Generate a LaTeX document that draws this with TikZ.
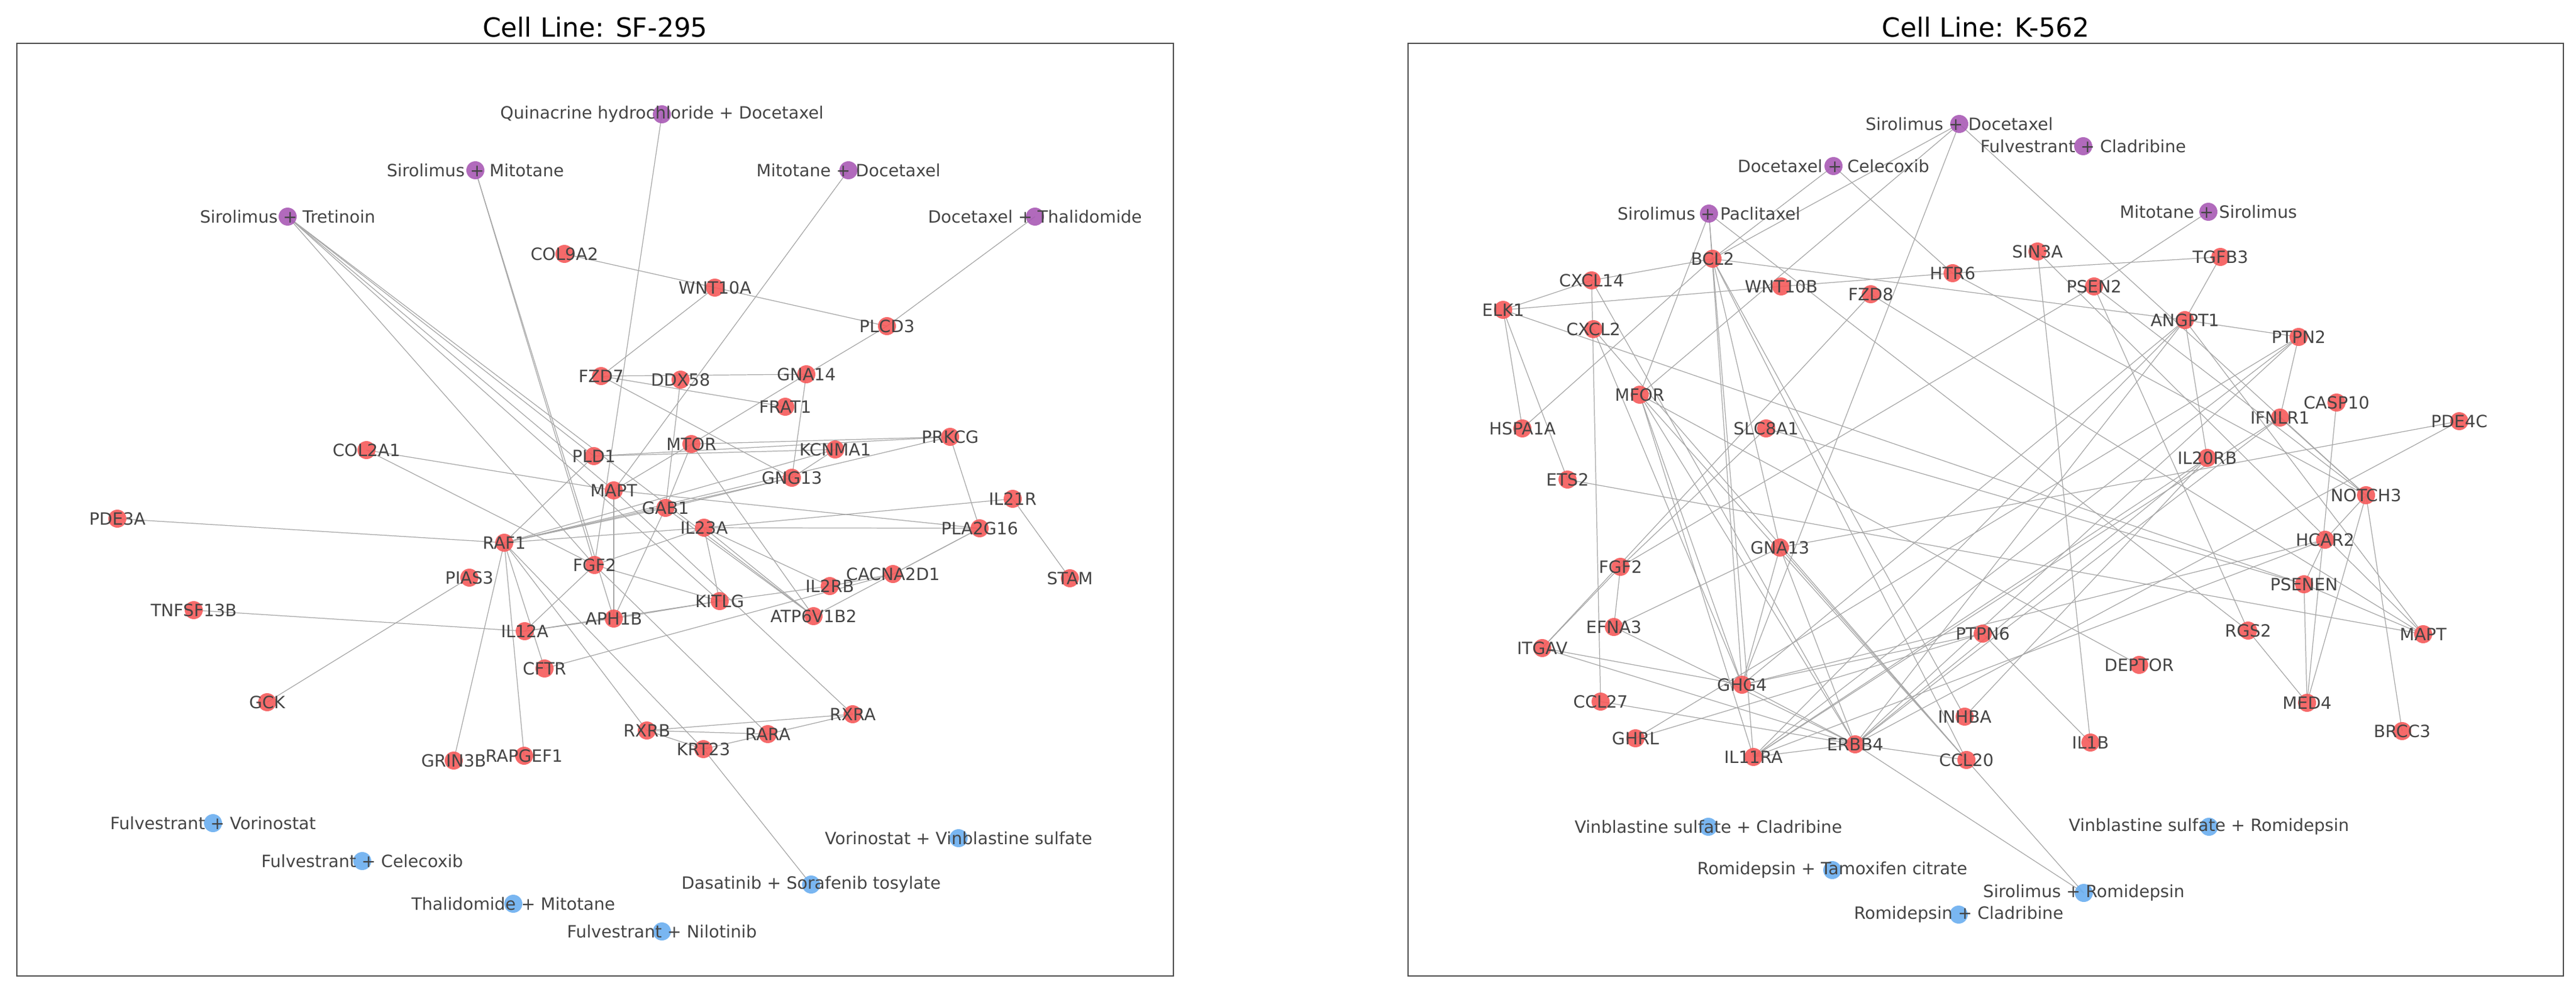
\documentclass[tikz,border=0pt]{standalone}
\usepackage{fontspec}
\setmainfont{DejaVu Sans}
\pgfdeclarelayer{bg}
\pgfsetlayers{bg,main}
\definecolor{gred}{HTML}{F55A5A}
\definecolor{dpur}{HTML}{A85AB5}
\definecolor{dblu}{HTML}{6AAEEF}
\definecolor{txt}{HTML}{444444}
\tikzset{
 gn/.style={circle,inner sep=0pt,minimum size=0.3cm,fill=gred,fill opacity=0.9},
 pn/.style={gn,fill=dpur},
 bn/.style={gn,fill=dblu},
 lbl/.style={text=txt,font=\fontsize{8}{9}\selectfont,inner sep=0pt},
 edge/.style={draw=gray!70,line width=0.35pt},
 frame/.style={draw=black!70,line width=0.5pt},
 ttl/.style={font=\fontsize{12.5}{14}\selectfont,text=black}
}
\newcommand\N[5]{\node[#1] (#2) at (#3/100,-#4/100) {}; \node[lbl] at (#2) {#5};}
\begin{document}
\begin{tikzpicture}
\useasboundingbox (0,0) rectangle (42.81,-16.37);
\draw[frame] (0.28,-0.72) rectangle (19.50,-16.22);
\draw[frame] (23.40,-0.72) rectangle (42.60,-16.22);
\node[ttl] at (9.89,-0.45) {Cell Line: SF-295};
\node[ttl] at (33.0,-0.45) {Cell Line: K-562};
% SF-295
\N{pn}{qd}{1100}{190}{Quinacrine hydrochloride + Docetaxel}
\N{pn}{sm}{790}{283}{Sirolimus + Mitotane}
\N{pn}{md}{1410}{283}{Mitotane + Docetaxel}
\N{pn}{st}{478}{360}{Sirolimus + Tretinoin}
\N{pn}{dt}{1720}{360}{Docetaxel + Thalidomide}
\N{gn}{COLnA}{938}{422}{COL9A2}
\N{gn}{WNTA}{1188}{478}{WNT10A}
\N{gn}{PLCD}{1474}{542}{PLCD3}
\N{gn}{FZD}{999}{625}{FZD7}
\N{gn}{DDX}{1131}{631}{DDX58}
\N{gn}{GNAf}{1340}{622}{GNA14}
\N{gn}{FRAT}{1305}{676}{FRAT1}
\N{gn}{PRKCG}{1579}{726}{PRKCG}
\N{gn}{COLtA}{609}{748}{COL2A1}
\N{gn}{PLD}{987}{758}{PLD1}
\N{gn}{MTOR}{1149}{738}{MTOR}
\N{gn}{KCN}{1388}{747}{KCNMA1}
\N{gn}{MAPT}{1020}{815}{MAPT}
\N{gn}{GNG}{1316}{794}{GNG13}
\N{gn}{GAB}{1106}{844}{GAB1}
\N{gn}{ILtoR}{1683}{829}{IL21R}
\N{gn}{PDE}{195}{862}{PDE3A}
\N{gn}{RAF}{838}{902}{RAF1}
\N{gn}{ILtA}{1170}{877}{IL23A}
\N{gn}{PLA}{1628}{878}{PLA2G16}
\N{gn}{FGF}{988}{939}{FGF2}
\N{gn}{PIAS}{780}{960}{PIAS3}
\N{gn}{CAC}{1484}{954}{CACNA2D1}
\N{gn}{STAM}{1778}{961}{STAM}
\N{gn}{ILRB}{1379}{974}{IL2RB}
\N{gn}{KIT}{1196}{999}{KITLG}
\N{gn}{TNF}{322}{1014}{TNFSF13B}
\N{gn}{APH}{1020}{1028}{APH1B}
\N{gn}{ATP}{1352}{1024}{ATP6V1B2}
\N{gn}{ILoA}{872}{1049}{IL12A}
\N{gn}{CFTR}{905}{1111}{CFTR}
\N{gn}{GCK}{444}{1167}{GCK}
\N{gn}{RXRA}{1417}{1187}{RXRA}
\N{gn}{RXRB}{1075}{1214}{RXRB}
\N{gn}{RARA}{1276}{1220}{RARA}
\N{gn}{KRT}{1169}{1245}{KRT23}
\N{gn}{GRIN}{754}{1264}{GRIN3B}
\N{gn}{RAPG}{871}{1256}{RAPGEF1}
\N{bn}{fv}{354}{1368}{Fulvestrant + Vorinostat}
\N{bn}{vv}{1593}{1393}{Vorinostat + Vinblastine sulfate}
\N{bn}{fc}{602}{1431}{Fulvestrant + Celecoxib}
\N{bn}{ds}{1348}{1470}{Dasatinib + Sorafenib tosylate}
\N{bn}{tm}{853}{1502}{Thalidomide + Mitotane}
\N{bn}{fn}{1100}{1548}{Fulvestrant + Nilotinib}
% K-562
\N{pn}{sd}{3256}{206}{Sirolimus + Docetaxel}
\N{pn}{fcl}{3462}{243}{Fulvestrant + Cladribine}
\N{pn}{dc}{3047}{276}{Docetaxel + Celecoxib}
\N{pn}{sp}{2840}{355}{Sirolimus + Paclitaxel}
\N{pn}{ms}{3670}{352}{Mitotane + Sirolimus}
\N{gn}{SIN}{3386}{418}{SIN3A}
\N{gn}{TGF}{3690}{427}{TGFB3}
\N{gn}{BCL}{2846}{430}{BCL2}
\N{gn}{HTR}{3245}{454}{HTR6}
\N{gn}{CXf}{2645}{466}{CXCL14}
\N{gn}{WNTB}{2960}{476}{WNT10B}
\N{gn}{PSEN}{3480}{476}{PSEN2}
\N{gn}{FZDe}{3109}{489}{FZD8}
\N{gn}{ELK}{2498}{515}{ELK1}
\N{gn}{ANG}{3631}{532}{ANGPT1}
\N{gn}{CXt}{2648}{547}{CXCL2}
\N{gn}{PTPt}{3820}{560}{PTPN2}
\N{gn}{MFOR}{2725}{656}{MFOR}
\N{gn}{IFN}{3789}{694}{IFNLR1}
\N{gn}{CASP}{3883}{669}{CASP10}
\N{gn}{HSP}{2530}{712}{HSPA1A}
\N{gn}{SLC}{2935}{712}{SLC8A1}
\N{gn}{PDEC}{4087}{700}{PDE4C}
\N{gn}{ILRBb}{3668}{761}{IL20RB}
\N{gn}{ETS}{2605}{797}{ETS2}
\N{gn}{NOT}{3932}{823}{NOTCH3}
\N{gn}{GNAt}{2958}{910}{GNA13}
\N{gn}{HCAR}{3864}{897}{HCAR2}
\N{gn}{kFGF}{2693}{942}{FGF2}
\N{gn}{PSNN}{3829}{971}{PSENEN}
\N{gn}{EFN}{2682}{1042}{EFNA3}
\N{gn}{PTPs}{3295}{1053}{PTPN6}
\N{gn}{RGS}{3736}{1048}{RGS2}
\N{gn}{kMAPT}{4027}{1054}{MAPT}
\N{gn}{ITG}{2563}{1077}{ITGAV}
\N{gn}{DEP}{3555}{1105}{DEPTOR}
\N{gn}{GHG}{2895}{1138}{GHG4}
\N{gn}{MED}{3834}{1168}{MED4}
\N{gn}{CCLs}{2660}{1166}{CCL27}
\N{gn}{INH}{3265}{1191}{INHBA}
\N{gn}{BRC}{3992}{1215}{BRCC3}
\N{gn}{GHRL}{2718}{1227}{GHRL}
\N{gn}{ILoB}{3474}{1234}{IL1B}
\N{gn}{ERB}{3083}{1237}{ERBB4}
\N{gn}{ILRA}{2914}{1258}{IL11RA}
\N{gn}{CCLt}{3268}{1263}{CCL20}
\N{bn}{vc}{2839}{1374}{Vinblastine sulfate + Cladribine}
\N{bn}{vr}{3671}{1374}{Vinblastine sulfate + Romidepsin}
\N{bn}{rt}{3045}{1446}{Romidepsin + Tamoxifen citrate}
\N{bn}{sr}{3463}{1484}{Sirolimus + Romidepsin}
\N{bn}{rc}{3255}{1520}{Romidepsin + Cladribine}
\begin{pgfonlayer}{bg}
\foreach \a/\b in {st/PLD,st/MAPT,st/FGF,st/KIT,st/ATP,sm/FGF,sm/APH,qd/FGF,md/MAPT,
 dt/PLCD,PLCD/GNAf,GNAf/MTOR,COLnA/WNTA,WNTA/PLCD,WNTA/FZD,FZD/GNAf,FZD/FRAT,FZD/GNG,DDX/GAB,
 GNAf/GNG,MTOR/PRKCG,PLD/KCN,PLD/PRKCG,MTOR/ATP,MTOR/MAPT,MTOR/GAB,KCN/GNG,KCN/RAF,GNG/RAF,PRKCG/RAF,
 GNG/GAB,PRKCG/PLA,ILtoR/STAM,ILtoR/ILtA,MAPT/PLA,PDE/RAF,COLtA/MAPT,COLtA/FGF,RAF/GAB,RAF/ILtA,
 RAF/GRIN,RAF/RAPG,RAF/KRT,RAF/RXRB,RAF/PLD,PIAS/GCK,TNF/ILoA,ILoA/APH,ILoA/FGF,ILoA/KIT,APH/KIT,
 APH/GAB,APH/MAPT,FGF/KIT,FGF/ILtA,FGF/RARA,GAB/ATP,ILtA/ILRB,ILtA/KIT,ILtA/ATP,ILtA/PLA,KIT/ILRB,
 ILRB/CAC,CAC/PLA,ATP/PLA,CFTR/CAC,RAF/CFTR,RXRB/RXRA,RXRB/RARA,RXRB/KRT,KRT/RARA,RARA/RXRA,
 RXRA/MAPT,KRT/ds,
 sd/BCL,sd/MFOR,sd/GHG,sd/NOT,dc/BCL,dc/HTR,sp/BCL,sp/MFOR,sp/GHG,sp/RGS,ms/PSEN,PSEN/kFGF,
 BCL/CXf,BCL/ANG,BCL/HSP,BCL/GNAt,BCL/CCLt,BCL/ILRA,BCL/INH,CXf/ELK,CXf/CCLs,CXf/ERB,ELK/WNTB,ELK/HSP,
 ELK/ETS,ELK/PSNN,CXt/GHG,CXt/CCLt,WNTB/HTR,HTR/TGF,HTR/NOT,FZDe/ITG,FZDe/kMAPT,SIN/kMAPT,SIN/ILoB,
 PSEN/NOT,PSEN/RGS,ANG/PTPt,ANG/TGF,ANG/ERB,ANG/ILRBb,ANG/kMAPT,ANG/ILRA,ANG/GHG,PTPt/IFN,PTPt/ERB,
 PTPt/ILRA,PTPt/GHRL,IFN/NOT,IFN/ERB,IFN/ILRA,CASP/MED,PDEC/GNAt,PDEC/ERB,ILRBb/ERB,ILRBb/INH,
 ILRBb/ILRA,NOT/HCAR,NOT/BRC,NOT/MED,HCAR/PSNN,HCAR/GHG,HCAR/ILRA,PSNN/kMAPT,PSNN/MED,ETS/kMAPT,
 GNAt/GHG,GNAt/CCLt,GNAt/ERB,kFGF/EFN,kFGF/ITG,kFGF/SLC,EFN/ERB,EFN/GNAt,ITG/GHG,ITG/ERB,GHG/ERB,
 GHG/PTPs,CCLs/ERB,ERB/ILRA,ERB/CCLt,ERB/sr,CCLt/sr,PTPs/ILoB,PTPs/GHRL,MFOR/GHG,MFOR/ERB,MFOR/CCLt,
 MFOR/DEP,MFOR/ILRA,SLC/PSNN,RGS/MED}
 \draw[edge] (\a.center) -- (\b.center);
\end{pgfonlayer}
\end{tikzpicture}
\end{document}
